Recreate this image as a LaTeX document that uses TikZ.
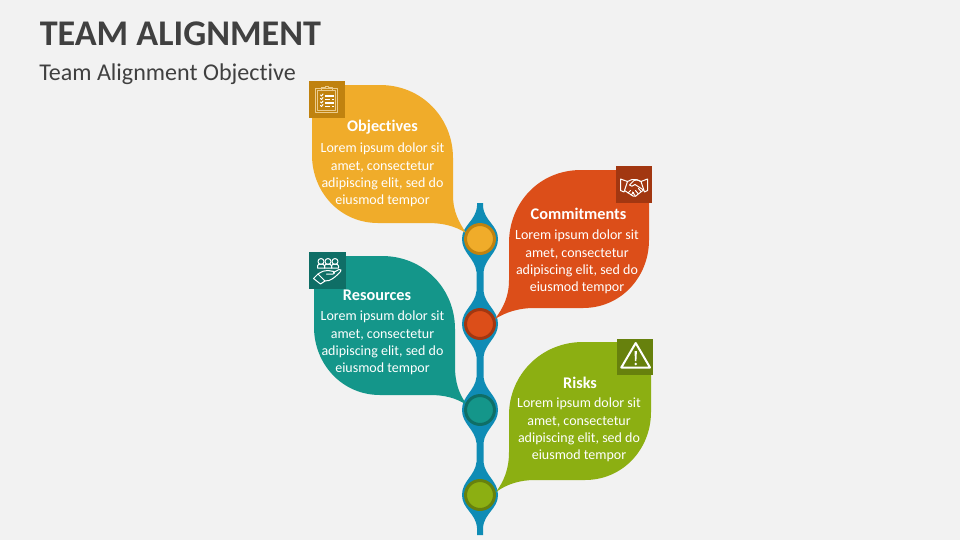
\documentclass[tikz,border=0pt]{standalone}
\usepackage{fontspec}
\setmainfont[Ligatures=NoCommon]{Carlito}
\usepackage{tikz}
\definecolor{pagebg}{HTML}{F2F2F2}
\definecolor{stemblue}{HTML}{0F8CB5}
\definecolor{titlegray}{HTML}{404040}
\definecolor{objfill}{HTML}{F0AC2A}
\definecolor{objdark}{HTML}{C0820F}
\definecolor{objline}{HTML}{EBCB8C}
\definecolor{comfill}{HTML}{DC4E19}
\definecolor{comdark}{HTML}{A23711}
\definecolor{resfill}{HTML}{14968A}
\definecolor{resdark}{HTML}{0F6E66}
\definecolor{riskfill}{HTML}{8CAF12}
\definecolor{riskdark}{HTML}{67810D}
\tikzset{
  headtext/.style={font=\bfseries\fontsize{12.2pt}{14pt}\selectfont, text=white, inner sep=0pt},
  bodytext/.style={font=\fontsize{10.5pt}{12.9pt}\selectfont, text=white, align=center, inner sep=0pt},
  iconline/.style={draw=white, line width=0.75pt, line join=round, line cap=round, fill=none},
  hub/.style={circle, draw, line width=2.25pt, minimum size=21.7pt, inner sep=0pt}
}
\begin{document}
\begin{tikzpicture}[x=0.75pt, y=-0.75pt]
  \useasboundingbox (0,0) rectangle (960,540);
  \fill[pagebg] (0,0) rectangle (960,540);
  \node[anchor=west, inner sep=0pt, text=titlegray, font=\bfseries\fontsize{27.1pt}{30pt}\selectfont] (title) at (39.5,34) {TEAM ALIGNMENT};
  \node[anchor=west, inner sep=0pt, text=titlegray, font=\fontsize{18.05pt}{20pt}\selectfont] (subtitle) at (39,74) {Team Alignment Objective};

  \fill[stemblue] (477,203) -- (483,203) -- (483,206) .. controls (484,221) and (498,225) .. (498,239)
    .. controls (498,253) and (485,258) .. (483.5,272) -- (483.5,291)
    .. controls (485,305) and (498,310) .. (498,324)
    .. controls (498,338) and (485,343) .. (483.5,357) -- (483.5,377)
    .. controls (485,391) and (498,396) .. (498,410)
    .. controls (498,424) and (485,429) .. (483.5,443) -- (483.5,462)
    .. controls (485,476) and (498,481) .. (498,495)
    .. controls (498,509) and (484,513) .. (483,528) -- (483,535) -- (477,535) -- (477,528)
    .. controls (476,513) and (462,509) .. (462,495)
    .. controls (462,481) and (475,476) .. (476.5,462) -- (476.5,443)
    .. controls (475,429) and (462,424) .. (462,410)
    .. controls (462,396) and (475,391) .. (476.5,377) -- (476.5,357)
    .. controls (475,343) and (462,338) .. (462,324)
    .. controls (462,310) and (475,305) .. (476.5,291) -- (476.5,272)
    .. controls (475,258) and (462,253) .. (462,239)
    .. controls (462,225) and (476,221) .. (477,206) -- cycle;

  \fill[objfill] (312,85) -- (380,85) .. controls (422,85) and (453,118) .. (453,158) -- (453,195)
    .. controls (453,212) and (459,222) .. (466,233)
    .. controls (455,226) and (443,223) .. (428,223) -- (378,223)
    .. controls (340,223) and (312,192) .. (312,155) -- cycle;
  \fill[comfill] (649,170) -- (581,170) .. controls (539,170) and (509,203) .. (509,243) -- (509,280)
    .. controls (509,297) and (503,308) .. (495,319)
    .. controls (506,312) and (519,308) .. (534,308) -- (583,308)
    .. controls (621,308) and (649,277) .. (649,240) -- cycle;
  \fill[resfill] (314,256) -- (382,256) .. controls (424,256) and (455,289) .. (455,329) -- (455,366)
    .. controls (455,383) and (459,394) .. (467,405)
    .. controls (456,398) and (445,395) .. (430,395) -- (380,395)
    .. controls (342,395) and (314,364) .. (314,327) -- cycle;
  \fill[riskfill] (651,342) -- (583,342) .. controls (541,342) and (509,375) .. (509,415) -- (509,452)
    .. controls (509,469) and (504,481) .. (496,492)
    .. controls (507,484) and (520,480) .. (535,480) -- (585,480)
    .. controls (623,480) and (651,449) .. (651,412) -- cycle;

  \node[hub, draw=objdark, fill=objfill] (hubobj) at (480,239) {};
  \node[hub, draw=comdark, fill=comfill] (hubcom) at (480,324) {};
  \node[hub, draw=resdark, fill=resfill] (hubres) at (480,410) {};
  \node[hub, draw=riskdark, fill=riskfill] (hubrisk) at (480,495) {};

  \node[headtext] (headobj) at (382.5,127) {Objectives};
  \node[bodytext] (bodyobj) at (382.5,175) {Lorem ipsum dolor sit\\amet, consectetur\\adipiscing elit, sed do\\eiusmod tempor};
  \node[headtext] (headcom) at (578.5,214) {Commitments};
  \node[bodytext] (bodycom) at (577,262) {Lorem ipsum dolor sit\\amet, consectetur\\adipiscing elit, sed do\\eiusmod tempor};
  \node[headtext] (headres) at (377,295) {Resources};
  \node[bodytext] (bodyres) at (382.5,343) {Lorem ipsum dolor sit\\amet, consectetur\\adipiscing elit, sed do\\eiusmod tempor};
  \node[headtext] (headrisk) at (580,383) {Risks};
  \node[bodytext] (bodyrisk) at (579,430) {Lorem ipsum dolor sit\\amet, consectetur\\adipiscing elit, sed do\\eiusmod tempor};

  \fill[objdark] (309,81) rectangle (345,118);
  \draw[iconline, draw=objline] (315.5,88.5) rectangle (337.5,112);
  \draw[iconline, draw=objline] (317.5,90.5) rectangle (335.5,110);
  \draw[iconline, draw=objline] (321,90.5) -- (321,87.5) -- (325,87.5) -- (325,86) -- (328,86) -- (328,87.5) -- (332,87.5) -- (332,90.5);
  \draw[iconline] (320.5,95) -- (321.5,96) -- (323,94);
  \draw[iconline] (320.5,98.5) -- (321.5,99.5) -- (323,97.5);
  \draw[iconline] (320.5,102) -- (321.5,103) -- (323,101);
  \draw[iconline] (320.5,105.5) -- (321.5,106.5) -- (323,104.5);
  \draw[white, line width=0.9pt] (325,96) -- (334,96);
  \draw[white, line width=0.9pt] (325,99.5) -- (330,99.5) (331.5,99.5) -- (334,99.5);
  \draw[white, line width=0.9pt] (325,103) -- (334,103);
  \draw[white, line width=0.9pt] (325,106.5) -- (330,106.5) (331.5,106.5) -- (334,106.5);

  \fill[comdark] (616,166) rectangle (652,203);
  \draw[iconline] (620.5,179) -- (627.5,181.5) -- (624,192) -- (620.5,190.5) -- cycle;
  \draw[iconline] (647.5,179) -- (641,181.5) -- (644.5,192) -- (647.5,190.5) -- cycle;
  \draw[iconline] (627.5,181.5) .. controls (631,180) and (633,178.5) .. (636,179.5) -- (640,181);
  \draw[iconline] (641,181.5) .. controls (638,180) and (636,179) .. (634,180.5) -- (629.5,185) .. controls (630.5,187) and (633,186.5) .. (635,184.5) -- (643.5,190);
  \draw[iconline] (624.5,190.5) -- (633,196) .. controls (635,197) and (636.5,196) .. (637,195) -- (643.5,190);
  \draw[iconline] (628,193) -- (630.5,190.5) (631,195) -- (633.5,192.5);
  \draw[iconline] (635,195.5) -- (632.5,192) (638,193.5) -- (635.5,190.5) (641,191.5) -- (638.5,188.5);

  \fill[resdark] (309,252) rectangle (346,289);
  \foreach \px in {321,328,335}{
    \draw[iconline] (\px,261.5) circle[radius=3];
    \draw[iconline] (\px-3.5,268) -- (\px-3.5,266) .. controls (\px-3.5,264.5) and (\px-2,264) .. (\px,264) .. controls (\px+2,264) and (\px+3.5,264.5) .. (\px+3.5,266) -- (\px+3.5,268) -- cycle;
  }
  \draw[iconline] (313.5,278.5) -- (318,274) -- (325,281) -- (320.5,284) -- cycle;
  \draw[iconline] (318,274) .. controls (322,271.5) and (325,270) .. (328,270.5) -- (334,271.5) .. controls (335,272.5) and (334.5,274) .. (333,274) -- (326.5,274);
  \draw[iconline] (333.5,272.5) -- (339,269.5) .. controls (341,269) and (341.5,270.5) .. (340.5,271.5) .. controls (337,275.5) and (333,279) .. (329,280.5) -- (324,281);

  \fill[riskdark] (617,339) rectangle (653,375);
  \draw[white, line width=1.5pt, line join=round] (635.7,343) -- (650,367.5) -- (621.3,367.5) -- cycle;
  \fill[white] (634.5,351) -- (636.9,351) -- (636.4,361) -- (635,361) -- cycle;
  \fill[white] (635.7,364) circle[radius=1.4];
\end{tikzpicture}
\end{document}
